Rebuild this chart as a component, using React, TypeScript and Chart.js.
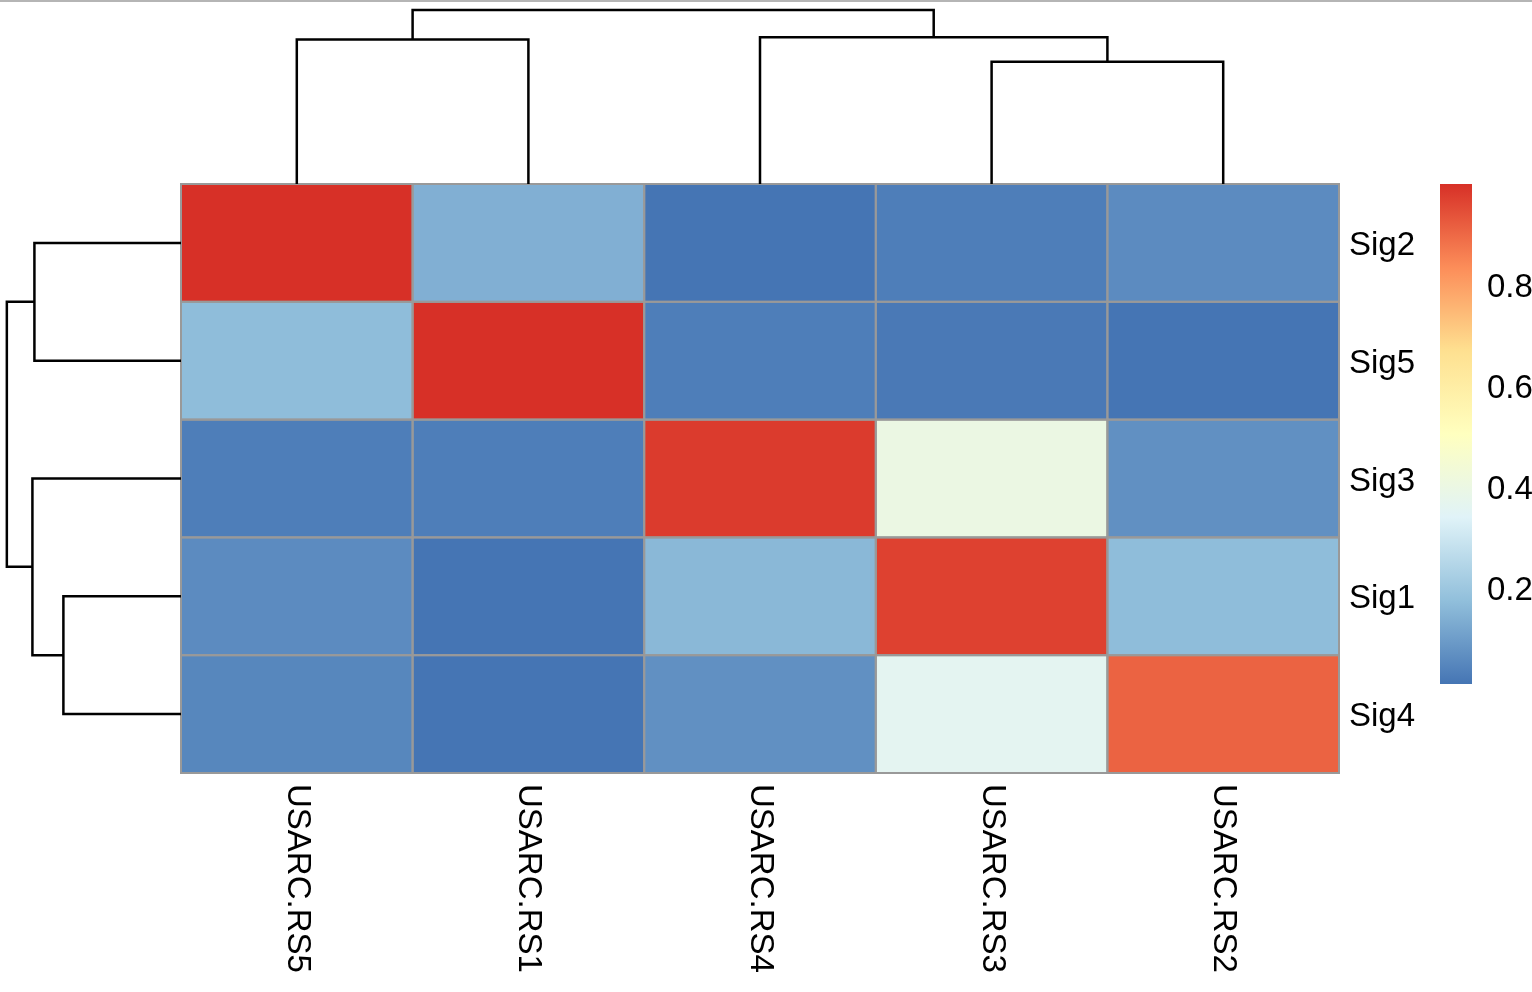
import React, { useEffect, useRef } from "react";
import { Chart, registerables } from "chart.js";

Chart.register(...registerables);

// ---------- data ----------
const colLabels = ["USARC.RS5", "USARC.RS1", "USARC.RS4", "USARC.RS3", "USARC.RS2"];
const rowLabels = ["Sig2", "Sig5", "Sig3", "Sig1", "Sig4"];

const sig2 = [1.0, 0.14, 0.01, 0.034, 0.066];
const sig5 = [0.175, 0.995, 0.036, 0.025, 0.012];
const sig3 = [0.03, 0.03, 0.98, 0.4, 0.07];
const sig1 = [0.06, 0.017, 0.16, 0.968, 0.17];
const sig4 = [0.05, 0.017, 0.079, 0.363, 0.91];
const rowValues = [sig2, sig5, sig3, sig1, sig4];

// hclust-style merges: negative = leaf (1-based, display order), positive = earlier merge; third = height
const colMerges: [number, number, number][] = [
  [-4, -5, 1.223],
  [-1, -2, 1.447],
  [-3, 1, 1.47],
  [2, 3, 1.743],
];
const rowMerges: [number, number, number][] = [
  [-4, -5, 1.177],
  [-1, -2, 1.467],
  [-3, 1, 1.487],
  [2, 3, 1.743],
];

const legendTicks = [0.2, 0.4, 0.6, 0.8];
const palette = ["#4575B4", "#91BFDB", "#E0F3F8", "#FFFFBF", "#FEE090", "#FC8D59", "#D73027"];

// ---------- helpers ----------
const FONT = '33px "Liberation Sans", Arial, Helvetica, sans-serif';
const TOP_SPAN = 1.478; // tree height in row units
const LEFT_SPAN = 0.752; // tree height in column units

const allVals = rowValues.flat();
const vMin = Math.min(...allVals);
const vMax = Math.max(...allVals);

function hexToRgb(h: string) {
  const n = parseInt(h.slice(1), 16);
  return [(n >> 16) & 255, (n >> 8) & 255, n & 255];
}
const palRgb = palette.map(hexToRgb);
function ramp(t: number) {
  const s = Math.max(0, Math.min(1, t)) * (palRgb.length - 1);
  const i = Math.min(palRgb.length - 2, Math.floor(s));
  const f = s - i;
  const a = palRgb[i];
  const b = palRgb[i + 1];
  const c = a.map((av, k) => Math.round(av + (b[k] - av) * f));
  return `rgb(${c[0]},${c[1]},${c[2]})`;
}
function colorFor(v: number) {
  const p = (v - vMin) / (vMax - vMin);
  const idx = Math.min(99, Math.floor(p * 100));
  return ramp(idx / 99);
}

function dendroDatasets(merges: [number, number, number][], top: boolean) {
  const pos: number[] = [];
  const hts: number[] = [];
  const root = merges[merges.length - 1][2];
  const childInfo = (c: number) =>
    c < 0 ? { p: -c - 0.5, h: 0 } : { p: pos[c - 1], h: hts[c - 1] };
  const pt = (p: number, h: number) =>
    top ? { x: p, y: (-h / root) * TOP_SPAN } : { x: (-h / root) * LEFT_SPAN, y: p };
  return merges.map(([a, b, h], k) => {
    const A = childInfo(a);
    const B = childInfo(b);
    pos[k] = (A.p + B.p) / 2;
    hts[k] = h;
    return {
      type: "scatter" as const,
      data: [pt(A.p, A.h), pt(A.p, h), pt(B.p, h), pt(B.p, B.h)],
      showLine: true,
      borderColor: "#000000",
      borderWidth: 2.5,
      pointRadius: 0,
      tension: 0,
      clip: false as any,
      borderJoinStyle: "miter" as const,
    };
  });
}

const heatPlugin = {
  id: "heatCells",
  beforeDatasetsDraw(chart: any) {
    const { ctx } = chart;
    const x = chart.scales.x;
    const y = chart.scales.y;
    ctx.save();
    rowValues.forEach((row, r) =>
      row.forEach((v, c) => {
        const x0 = x.getPixelForValue(c);
        const x1 = x.getPixelForValue(c + 1);
        const y0 = y.getPixelForValue(r);
        const y1 = y.getPixelForValue(r + 1);
        ctx.fillStyle = colorFor(v);
        ctx.fillRect(x0, y0, x1 - x0, y1 - y0);
      })
    );
    ctx.strokeStyle = "#999999";
    ctx.lineWidth = 2;
    rowValues.forEach((row, r) =>
      row.forEach((_v, c) => {
        const x0 = x.getPixelForValue(c);
        const x1 = x.getPixelForValue(c + 1);
        const y0 = y.getPixelForValue(r);
        const y1 = y.getPixelForValue(r + 1);
        ctx.strokeRect(x0, y0, x1 - x0, y1 - y0);
      })
    );
    ctx.restore();
  },
  afterDraw(chart: any) {
    const { ctx, chartArea } = chart;
    const x = chart.scales.x;
    const y = chart.scales.y;
    ctx.save();
    ctx.fillStyle = "#000000";
    ctx.font = FONT;
    // row labels
    ctx.textAlign = "left";
    ctx.textBaseline = "middle";
    rowLabels.forEach((lab, r) => {
      ctx.fillText(lab, chartArea.right + 10, y.getPixelForValue(r + 0.5) + 3);
    });
    // column labels (rotated)
    colLabels.forEach((lab, c) => {
      ctx.save();
      ctx.translate(x.getPixelForValue(c + 0.5), chartArea.bottom + 11);
      ctx.rotate(Math.PI / 2);
      ctx.textAlign = "left";
      ctx.textBaseline = "middle";
      ctx.fillText(lab, 0, 0);
      ctx.restore();
    });
    // colour legend
    const lx = chartArea.right + 101;
    const lw = 32;
    const lt = chartArea.top;
    const lh = 500;
    const grad = ctx.createLinearGradient(0, lt + lh, 0, lt);
    palette.forEach((col, i) => grad.addColorStop(i / (palette.length - 1), col));
    ctx.fillStyle = grad;
    ctx.fillRect(lx, lt, lw, lh);
    ctx.fillStyle = "#000000";
    ctx.textAlign = "left";
    ctx.textBaseline = "middle";
    legendTicks.forEach((t) => {
      const py = lt + lh - ((t - vMin) / (vMax - vMin)) * lh;
      ctx.fillText(String(t), lx + 47, py + 3);
    });
    ctx.restore();
  },
};

export default function App() {
  const ref = useRef<HTMLCanvasElement | null>(null);
  useEffect(() => {
    document.body.style.margin = "0";
    const canvas = ref.current;
    if (!canvas) return;
    const chart = new Chart(canvas, {
      type: "scatter",
      data: {
        datasets: [...dendroDatasets(colMerges, true), ...dendroDatasets(rowMerges, false)] as any,
      },
      options: {
        animation: false,
        responsive: false,
        events: [],
        layout: { padding: { left: 181, top: 184, right: 193, bottom: 219 } },
        plugins: { legend: { display: false }, tooltip: { enabled: false } },
        scales: {
          x: { type: "linear", min: 0, max: 5, display: false },
          y: { type: "linear", min: 0, max: 5, reverse: true, display: false },
        },
      },
      plugins: [heatPlugin],
    });
    return () => chart.destroy();
  }, []);
  return (
    <div style={{ position: "relative", width: 1532, height: 992, background: "#ffffff" }}>
      <canvas ref={ref} width={1532} height={992} style={{ position: "absolute", left: 0, top: 0 }} />
      <div style={{ position: "absolute", left: 0, top: 0, width: 1532, height: 2, background: "#b5b5b5" }} />
    </div>
  );
}
